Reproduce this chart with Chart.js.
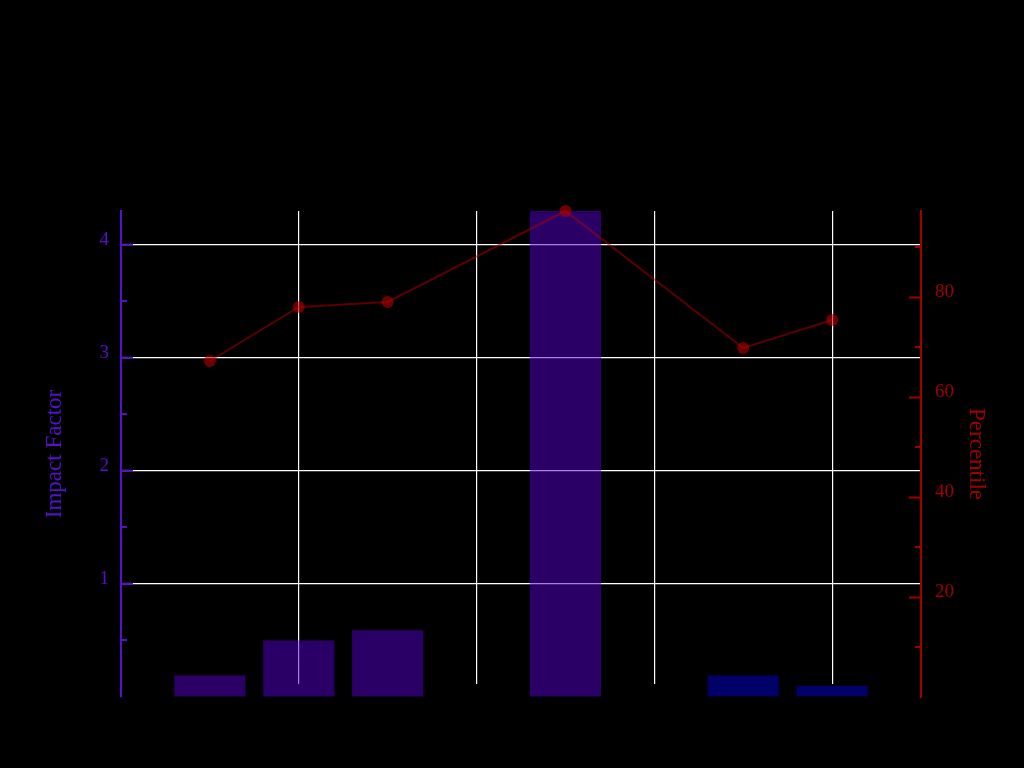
<!DOCTYPE html>
<html>
<head>
<meta charset="utf-8">
<script src="https://cdn.jsdelivr.net/npm/chart.js@4.4.1/dist/chart.umd.min.js"></script>
<style>
  html, body { margin: 0; padding: 0; background: #000; }
  #wrap { width: 1024px; height: 768px; }
</style>
</head>
<body>
<div id="wrap"><canvas id="c" width="1024" height="768"></canvas></div>
<script>
const categories = ['2014', '2015', '2016', '2017', '2018', '2019', '2020', '2021', '2022', '2023'];
const impactFactor = [null, 0.19, 0.50, 0.59, null, 4.30, null, 0.19, 0.10, null];
const percentile = [null, 67.2, 78.0, 79.0, null, 97.2, null, 69.8, 75.4, null];
const barColors = ['rgba(85,0,204,0.5)', 'rgba(85,0,204,0.5)', 'rgba(85,0,204,0.5)', 'rgba(85,0,204,0.5)', 'rgba(85,0,204,0.5)',
                   'rgba(85,0,204,0.5)', 'rgba(0,0,204,0.5)', 'rgba(0,0,204,0.5)', 'rgba(0,0,204,0.5)', 'rgba(0,0,204,0.5)'];
const leftMinorTicks = [0.5, 1.5, 2.5, 3.5];
const rightMinorTicks = [10, 30, 50, 70, 90];

const PURPLE = '#5511cc';
const RED = '#a00000';
const SERIF = "'Liberation Serif', 'Times New Roman', serif";

const minorTickPlugin = {
  id: 'minorTicks',
  beforeDatasetsDraw(chart) {
    const ctx = chart.ctx;
    const y = chart.scales.y, y1 = chart.scales.y1;
    ctx.save();
    ctx.lineWidth = 2;
    ctx.strokeStyle = PURPLE;
    leftMinorTicks.forEach(v => {
      const py = Math.round(y.getPixelForValue(v));
      ctx.beginPath(); ctx.moveTo(y.right, py); ctx.lineTo(y.right + 6, py); ctx.stroke();
    });
    ctx.strokeStyle = RED;
    rightMinorTicks.forEach(v => {
      const py = Math.round(y1.getPixelForValue(v));
      ctx.beginPath(); ctx.moveTo(y1.left, py); ctx.lineTo(y1.left - 6, py); ctx.stroke();
    });
    ctx.restore();
  }
};

new Chart(document.getElementById('c'), {
  type: 'bar',
  data: {
    labels: categories,
    datasets: [
      {
        type: 'line',
        label: 'Percentile',
        data: percentile,
        yAxisID: 'y1',
        borderColor: 'rgba(180,0,0,0.5)',
        borderWidth: 2,
        backgroundColor: 'rgba(180,0,0,0.6)',
        pointBackgroundColor: 'rgba(180,0,0,0.6)',
        pointBorderWidth: 0,
        pointRadius: 6,
        spanGaps: true,
        tension: 0,
        clip: false,
        order: 0
      },
      {
        type: 'bar',
        label: 'Impact Factor',
        data: impactFactor,
        yAxisID: 'y',
        backgroundColor: barColors,
        borderWidth: 0,
        barPercentage: 0.8,
        categoryPercentage: 1.0,
        order: 1
      }
    ]
  },
  options: {
    responsive: false,
    animation: false,
    devicePixelRatio: 1,
    layout: { padding: { top: 211, left: 37, right: 30, bottom: 30 } },
    plugins: { legend: { display: false }, title: { display: false }, tooltip: { enabled: false } },
    scales: {
      x: {
        type: 'category',
        offset: false,
        grid: {
          offset: false,
          color: c => (c.index > 0 && c.index < 9 && c.index % 2 === 0) ? '#ffffff' : 'rgba(0,0,0,0)',
          tickColor: c => (c.index > 0 && c.index < 9 && c.index % 2 === 0) ? '#000000' : 'rgba(0,0,0,0)',
          tickLength: -13,
          lineWidth: 1.2,
          tickWidth: 4
        },
        border: { display: false },
        ticks: { display: false, autoSkip: false },
        afterFit: s => { s.height = 41; }
      },
      y: {
        type: 'linear',
        position: 'left',
        min: 0,
        max: 4.3,
        grid: {
          color: c => (c.tick && c.tick.value > 0) ? '#ffffff' : 'rgba(0,0,0,0)',
          tickColor: c => (c.tick && c.tick.value > 0) ? PURPLE : 'rgba(0,0,0,0)',
          tickLength: -12,
          tickWidth: 2,
          lineWidth: 1.2
        },
        border: { display: true, color: PURPLE, width: 2 },
        ticks: {
          stepSize: 1,
          includeBounds: false,
          color: PURPLE,
          padding: 24,
          labelOffset: -5,
          font: { family: SERIF, size: 19 },
          callback: v => (v === 0 ? '' : String(v))
        },
        title: { display: true, text: 'Impact Factor', color: PURPLE, font: { family: SERIF, size: 23 } },
        afterFit: s => { s.width = 84; }
      },
      y1: {
        type: 'linear',
        position: 'right',
        min: 0,
        max: 97.2,
        grid: {
          drawOnChartArea: false,
          tickColor: c => (c.tick && c.tick.value > 0) ? RED : 'rgba(0,0,0,0)',
          tickLength: -12,
          tickWidth: 2
        },
        border: { display: true, color: RED, width: 2 },
        ticks: {
          stepSize: 20,
          includeBounds: false,
          color: RED,
          padding: 26,
          labelOffset: -5,
          font: { family: SERIF, size: 19 },
          callback: v => (v === 0 ? '' : String(v))
        },
        title: { display: true, text: 'Percentile', color: RED, font: { family: SERIF, size: 23 } },
        afterFit: s => { s.width = 73; }
      }
    }
  },
  plugins: [minorTickPlugin]
});
</script>
</body>
</html>
